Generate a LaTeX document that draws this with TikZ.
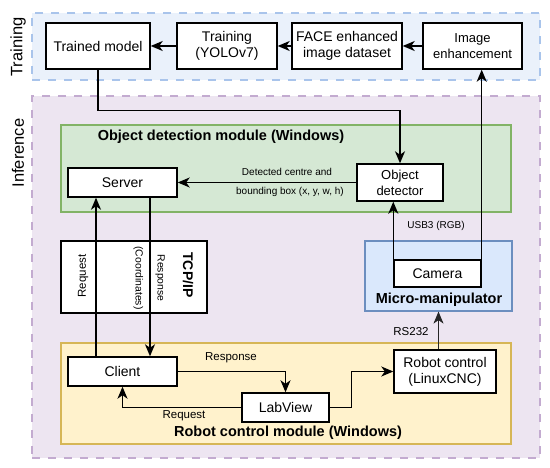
\documentclass[tikz,border=0pt]{standalone}
\usepackage{fontspec}
\setmainfont{Liberation Sans}
\usetikzlibrary{arrows.meta}
\definecolor{trainfill}{HTML}{EAF1FB}
\definecolor{trainline}{HTML}{A9C4EB}
\definecolor{inferfill}{HTML}{EDE5F1}
\definecolor{inferline}{HTML}{C3ABD0}
\definecolor{greenfill}{HTML}{D5E8D4}
\definecolor{greenline}{HTML}{82B366}
\definecolor{yellowfill}{HTML}{FFF2CC}
\definecolor{yellowline}{HTML}{D6B656}
\definecolor{bluefill}{HTML}{DAE8FC}
\definecolor{blueline}{HTML}{6C8EBF}
\tikzset{
  region/.style={draw, line width=1.4pt, dash pattern=on 8pt off 8pt},
  module/.style={draw, line width=1.2pt},
  block/.style={draw, fill=white, line width=1.4pt, align=center, inner sep=1pt,
    font=\fontsize{14}{16}\selectfont},
  conn/.style={line width=1.5pt, -{Stealth[length=12pt,width=10pt,inset=3.5pt]}},
  lbl/.style={font=\fontsize{11.5}{13}\selectfont},
  smalllbl/.style={font=\fontsize{10}{12}\selectfont},
  modtitle/.style={font=\bfseries\fontsize{14.5}{17}\selectfont}
}
\begin{document}
\begin{tikzpicture}[x=1pt,y=-1pt]
  \useasboundingbox (0,0) rectangle (550,468);
  % the two phases
  \node[region, draw=trainline, fill=trainfill, minimum width=508, minimum height=67] (trainzone) at (286,46.5) {};
  \node[region, draw=inferline, fill=inferfill, minimum width=508, minimum height=362] (inferzone) at (286,277) {};
  \node[rotate=90, font=\fontsize{16.5}{18}\selectfont] (trainlbl) at (18,47) {Training};
  \node[rotate=90, font=\fontsize{16.5}{18}\selectfont] (inferlbl) at (18,153) {Inference};
  % modules
  \node[module, draw=greenline, fill=greenfill, minimum width=450, minimum height=87] (detmod) at (286,168.5) {};
  \node[module, draw=yellowline, fill=yellowfill, minimum width=450, minimum height=101] (robmod) at (286,393.5) {};
  \node[module, draw=blueline, fill=bluefill, minimum width=147, minimum height=70] (mm) at (438.5,276) {};
  \node[modtitle] (detmodlbl) at (221,137) {Object detection module (Windows)};
  \node[modtitle] (robmodlbl) at (288,433) {Robot control module (Windows)};
  \node[modtitle] (mmlbl) at (439,300) {Micro-manipulator};
  \node[draw, fill=white, line width=1.4pt, minimum width=146, minimum height=72] (tcp) at (134,277) {};
  % training blocks
  \node[block, minimum width=104, minimum height=46] (trained) at (98,46) {Trained model};
  \node[block, minimum width=100, minimum height=46] (training) at (227,46) {Training\\(YOLOv7)};
  \node[block, minimum width=110, minimum height=46] (face) at (347,46) {FACE enhanced\\image dataset};
  \node[block, minimum width=99, minimum height=46, font=\fontsize{13}{16}\selectfont] (imgenh) at (472.5,46) {Image\\enhancement};
  % inference blocks
  \node[block, minimum width=86, minimum height=37, font=\fontsize{13}{16}\selectfont] (objdet) at (400,182.5) {Object\\detector};
  \node[block, minimum width=109, minimum height=29] (server) at (122.5,182.5) {Server};
  \node[block, minimum width=109, minimum height=29] (client) at (122.5,371.5) {Client};
  \node[block, minimum width=87, minimum height=29] (labview) at (285.5,407.5) {LabView};
  \node[block, minimum width=102, minimum height=43] (robot) at (445,371.5) {Robot control\\(LinuxCNC)};
  \node[block, minimum width=87, minimum height=27] (cam) at (437.5,273.5) {Camera};
  \coordinate (reqx) at (96,0);
  \coordinate (respx) at (150,0);
  % connectors
  \draw[conn] (imgenh.west) -- (face.east);
  \draw[conn] (face.west) -- (training.east);
  \draw[conn] (training.west) -- (trained.east);
  \draw[conn] (trained.south) -- ++(0,41) -| (objdet.north);
  \draw[conn] (cam.north east) -- (cam.north east |- imgenh.south);
  \draw[conn] (cam.north west) -- (cam.north west |- objdet.south);
  \node[smalllbl] (usblbl) at (436,226) {USB3 (RGB)};
  \draw[conn] (objdet.west) -- (server.east);
  \node[smalllbl] (detlbl1) at (287,172) {Detected centre and};
  \node[smalllbl] (detlbl2) at (290,192) {bounding box (x, y, w, h)};
  \draw[conn] (server.south -| respx) -- (client.north -| respx);
  \draw[conn] (client.north -| reqx) -- (server.south -| reqx);
  \node[rotate=90, lbl] (reqlbl) at (83,276) {Request};
  \node[rotate=-90, align=center, font=\fontsize{10.4}{22}\selectfont] (resplbl) at (149,278) {Response\\(Coordinates)};
  \node[rotate=-90, font=\bfseries\fontsize{14}{16}\selectfont] (tcplbl) at (188,275) {TCP/IP};
  \draw[conn] (client.east) -| (labview.north);
  \node[lbl] (cresplbl) at (231,358) {Response};
  \draw[conn] (labview.west) -| (client.south);
  \node[lbl] (creqlbl) at (184,416) {Request};
  \draw[conn] (labview.east) -- ++(22,0) |- (robot.west);
  \draw[conn, line width=1.1pt, black!85] (robot.north -| mm.south) -- (mm.south);
  \node[lbl] (rslbl) at (411,332) {RS232};
\end{tikzpicture}
\end{document}
